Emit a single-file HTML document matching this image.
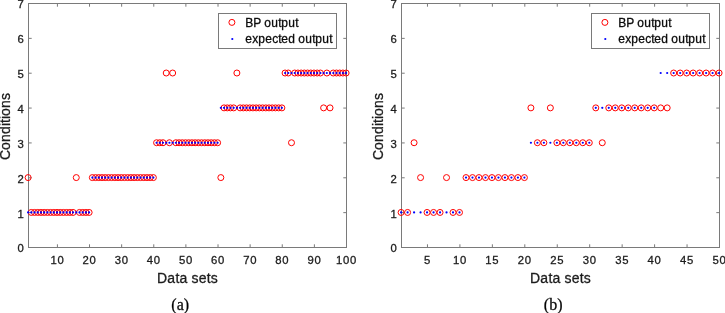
<!DOCTYPE html>
<html><head><meta charset="utf-8"><title>BP output vs expected output</title>
<style>
html,body{margin:0;padding:0;background:#fff;}
body{width:725px;height:313px;overflow:hidden;}
svg{display:block;}
svg text{stroke:#1c1c1c;stroke-width:0.3px;}
</style></head>
<body>
<svg width="725" height="313" viewBox="0 0 725 313" font-family="Liberation Sans, Arial, sans-serif" fill="#1c1c1c">
<rect width="725" height="313" fill="#fff"/>
<path d="M57.41 247.5V244.30M57.41 3.5V6.70M89.53 247.5V244.30M89.53 3.5V6.70M121.65 247.5V244.30M121.65 3.5V6.70M153.77 247.5V244.30M153.77 3.5V6.70M185.89 247.5V244.30M185.89 3.5V6.70M218.02 247.5V244.30M218.02 3.5V6.70M250.14 247.5V244.30M250.14 3.5V6.70M282.26 247.5V244.30M282.26 3.5V6.70M314.38 247.5V244.30M314.38 3.5V6.70M346.50 247.5V244.30M346.50 3.5V6.70M28.5 212.64H31.70M346.5 212.64H343.30M28.5 177.79H31.70M346.5 177.79H343.30M28.5 142.93H31.70M346.5 142.93H343.30M28.5 108.07H31.70M346.5 108.07H343.30M28.5 73.21H31.70M346.5 73.21H343.30M28.5 38.36H31.70M346.5 38.36H343.30" stroke="#7a7a7a" stroke-width="1.0" fill="none"/>
<rect x="28.5" y="3.5" width="318.0" height="244.0" fill="none" stroke="#7a7a7a" stroke-width="1.0"/>
<g fill="none" stroke="#ff0000" stroke-width="1.0"><circle cx="28.10" cy="177.59" r="3.0"/><circle cx="31.31" cy="212.44" r="3.0"/><circle cx="34.52" cy="212.44" r="3.0"/><circle cx="37.74" cy="212.44" r="3.0"/><circle cx="40.95" cy="212.44" r="3.0"/><circle cx="44.16" cy="212.44" r="3.0"/><circle cx="47.37" cy="212.44" r="3.0"/><circle cx="50.58" cy="212.44" r="3.0"/><circle cx="53.80" cy="212.44" r="3.0"/><circle cx="57.01" cy="212.44" r="3.0"/><circle cx="60.22" cy="212.44" r="3.0"/><circle cx="63.43" cy="212.44" r="3.0"/><circle cx="66.65" cy="212.44" r="3.0"/><circle cx="69.86" cy="212.44" r="3.0"/><circle cx="73.07" cy="212.44" r="3.0"/><circle cx="76.28" cy="177.59" r="3.0"/><circle cx="79.49" cy="212.44" r="3.0"/><circle cx="82.71" cy="212.44" r="3.0"/><circle cx="85.92" cy="212.44" r="3.0"/><circle cx="89.13" cy="212.44" r="3.0"/><circle cx="92.34" cy="177.59" r="3.0"/><circle cx="95.55" cy="177.59" r="3.0"/><circle cx="98.77" cy="177.59" r="3.0"/><circle cx="101.98" cy="177.59" r="3.0"/><circle cx="105.19" cy="177.59" r="3.0"/><circle cx="108.40" cy="177.59" r="3.0"/><circle cx="111.62" cy="177.59" r="3.0"/><circle cx="114.83" cy="177.59" r="3.0"/><circle cx="118.04" cy="177.59" r="3.0"/><circle cx="121.25" cy="177.59" r="3.0"/><circle cx="124.46" cy="177.59" r="3.0"/><circle cx="127.68" cy="177.59" r="3.0"/><circle cx="130.89" cy="177.59" r="3.0"/><circle cx="134.10" cy="177.59" r="3.0"/><circle cx="137.31" cy="177.59" r="3.0"/><circle cx="140.52" cy="177.59" r="3.0"/><circle cx="143.74" cy="177.59" r="3.0"/><circle cx="146.95" cy="177.59" r="3.0"/><circle cx="150.16" cy="177.59" r="3.0"/><circle cx="153.37" cy="177.59" r="3.0"/><circle cx="156.58" cy="142.73" r="3.0"/><circle cx="159.80" cy="142.73" r="3.0"/><circle cx="163.01" cy="142.73" r="3.0"/><circle cx="166.22" cy="73.01" r="3.0"/><circle cx="169.43" cy="142.73" r="3.0"/><circle cx="172.65" cy="73.01" r="3.0"/><circle cx="175.86" cy="142.73" r="3.0"/><circle cx="179.07" cy="142.73" r="3.0"/><circle cx="182.28" cy="142.73" r="3.0"/><circle cx="185.49" cy="142.73" r="3.0"/><circle cx="188.71" cy="142.73" r="3.0"/><circle cx="191.92" cy="142.73" r="3.0"/><circle cx="195.13" cy="142.73" r="3.0"/><circle cx="198.34" cy="142.73" r="3.0"/><circle cx="201.55" cy="142.73" r="3.0"/><circle cx="204.77" cy="142.73" r="3.0"/><circle cx="207.98" cy="142.73" r="3.0"/><circle cx="211.19" cy="142.73" r="3.0"/><circle cx="214.40" cy="142.73" r="3.0"/><circle cx="217.62" cy="142.73" r="3.0"/><circle cx="220.83" cy="177.59" r="3.0"/><circle cx="224.04" cy="107.87" r="3.0"/><circle cx="227.25" cy="107.87" r="3.0"/><circle cx="230.46" cy="107.87" r="3.0"/><circle cx="233.68" cy="107.87" r="3.0"/><circle cx="236.89" cy="73.01" r="3.0"/><circle cx="240.10" cy="107.87" r="3.0"/><circle cx="243.31" cy="107.87" r="3.0"/><circle cx="246.52" cy="107.87" r="3.0"/><circle cx="249.74" cy="107.87" r="3.0"/><circle cx="252.95" cy="107.87" r="3.0"/><circle cx="256.16" cy="107.87" r="3.0"/><circle cx="259.37" cy="107.87" r="3.0"/><circle cx="262.58" cy="107.87" r="3.0"/><circle cx="265.80" cy="107.87" r="3.0"/><circle cx="269.01" cy="107.87" r="3.0"/><circle cx="272.22" cy="107.87" r="3.0"/><circle cx="275.43" cy="107.87" r="3.0"/><circle cx="278.65" cy="107.87" r="3.0"/><circle cx="281.86" cy="107.87" r="3.0"/><circle cx="285.07" cy="73.01" r="3.0"/><circle cx="288.28" cy="73.01" r="3.0"/><circle cx="291.49" cy="142.73" r="3.0"/><circle cx="294.71" cy="73.01" r="3.0"/><circle cx="297.92" cy="73.01" r="3.0"/><circle cx="301.13" cy="73.01" r="3.0"/><circle cx="304.34" cy="73.01" r="3.0"/><circle cx="307.55" cy="73.01" r="3.0"/><circle cx="310.77" cy="73.01" r="3.0"/><circle cx="313.98" cy="73.01" r="3.0"/><circle cx="317.19" cy="73.01" r="3.0"/><circle cx="320.40" cy="73.01" r="3.0"/><circle cx="323.62" cy="107.87" r="3.0"/><circle cx="326.83" cy="73.01" r="3.0"/><circle cx="330.04" cy="107.87" r="3.0"/><circle cx="333.25" cy="73.01" r="3.0"/><circle cx="336.46" cy="73.01" r="3.0"/><circle cx="339.68" cy="73.01" r="3.0"/><circle cx="342.89" cy="73.01" r="3.0"/><circle cx="346.10" cy="73.01" r="3.0"/></g>
<g fill="#0000ff"><circle cx="28.10" cy="212.44" r="1.1"/><circle cx="31.31" cy="212.44" r="1.1"/><circle cx="34.52" cy="212.44" r="1.1"/><circle cx="37.74" cy="212.44" r="1.1"/><circle cx="40.95" cy="212.44" r="1.1"/><circle cx="44.16" cy="212.44" r="1.1"/><circle cx="47.37" cy="212.44" r="1.1"/><circle cx="50.58" cy="212.44" r="1.1"/><circle cx="53.80" cy="212.44" r="1.1"/><circle cx="57.01" cy="212.44" r="1.1"/><circle cx="60.22" cy="212.44" r="1.1"/><circle cx="63.43" cy="212.44" r="1.1"/><circle cx="66.65" cy="212.44" r="1.1"/><circle cx="69.86" cy="212.44" r="1.1"/><circle cx="73.07" cy="212.44" r="1.1"/><circle cx="76.28" cy="212.44" r="1.1"/><circle cx="79.49" cy="212.44" r="1.1"/><circle cx="82.71" cy="212.44" r="1.1"/><circle cx="85.92" cy="212.44" r="1.1"/><circle cx="89.13" cy="212.44" r="1.1"/><circle cx="92.34" cy="177.59" r="1.1"/><circle cx="95.55" cy="177.59" r="1.1"/><circle cx="98.77" cy="177.59" r="1.1"/><circle cx="101.98" cy="177.59" r="1.1"/><circle cx="105.19" cy="177.59" r="1.1"/><circle cx="108.40" cy="177.59" r="1.1"/><circle cx="111.62" cy="177.59" r="1.1"/><circle cx="114.83" cy="177.59" r="1.1"/><circle cx="118.04" cy="177.59" r="1.1"/><circle cx="121.25" cy="177.59" r="1.1"/><circle cx="124.46" cy="177.59" r="1.1"/><circle cx="127.68" cy="177.59" r="1.1"/><circle cx="130.89" cy="177.59" r="1.1"/><circle cx="134.10" cy="177.59" r="1.1"/><circle cx="137.31" cy="177.59" r="1.1"/><circle cx="140.52" cy="177.59" r="1.1"/><circle cx="143.74" cy="177.59" r="1.1"/><circle cx="146.95" cy="177.59" r="1.1"/><circle cx="150.16" cy="177.59" r="1.1"/><circle cx="153.37" cy="177.59" r="1.1"/><circle cx="156.58" cy="142.73" r="1.1"/><circle cx="159.80" cy="142.73" r="1.1"/><circle cx="163.01" cy="142.73" r="1.1"/><circle cx="166.22" cy="142.73" r="1.1"/><circle cx="169.43" cy="142.73" r="1.1"/><circle cx="172.65" cy="142.73" r="1.1"/><circle cx="175.86" cy="142.73" r="1.1"/><circle cx="179.07" cy="142.73" r="1.1"/><circle cx="182.28" cy="142.73" r="1.1"/><circle cx="185.49" cy="142.73" r="1.1"/><circle cx="188.71" cy="142.73" r="1.1"/><circle cx="191.92" cy="142.73" r="1.1"/><circle cx="195.13" cy="142.73" r="1.1"/><circle cx="198.34" cy="142.73" r="1.1"/><circle cx="201.55" cy="142.73" r="1.1"/><circle cx="204.77" cy="142.73" r="1.1"/><circle cx="207.98" cy="142.73" r="1.1"/><circle cx="211.19" cy="142.73" r="1.1"/><circle cx="214.40" cy="142.73" r="1.1"/><circle cx="217.62" cy="142.73" r="1.1"/><circle cx="220.83" cy="107.87" r="1.1"/><circle cx="224.04" cy="107.87" r="1.1"/><circle cx="227.25" cy="107.87" r="1.1"/><circle cx="230.46" cy="107.87" r="1.1"/><circle cx="233.68" cy="107.87" r="1.1"/><circle cx="236.89" cy="107.87" r="1.1"/><circle cx="240.10" cy="107.87" r="1.1"/><circle cx="243.31" cy="107.87" r="1.1"/><circle cx="246.52" cy="107.87" r="1.1"/><circle cx="249.74" cy="107.87" r="1.1"/><circle cx="252.95" cy="107.87" r="1.1"/><circle cx="256.16" cy="107.87" r="1.1"/><circle cx="259.37" cy="107.87" r="1.1"/><circle cx="262.58" cy="107.87" r="1.1"/><circle cx="265.80" cy="107.87" r="1.1"/><circle cx="269.01" cy="107.87" r="1.1"/><circle cx="272.22" cy="107.87" r="1.1"/><circle cx="275.43" cy="107.87" r="1.1"/><circle cx="278.65" cy="107.87" r="1.1"/><circle cx="281.86" cy="107.87" r="1.1"/><circle cx="285.07" cy="73.01" r="1.1"/><circle cx="288.28" cy="73.01" r="1.1"/><circle cx="291.49" cy="73.01" r="1.1"/><circle cx="294.71" cy="73.01" r="1.1"/><circle cx="297.92" cy="73.01" r="1.1"/><circle cx="301.13" cy="73.01" r="1.1"/><circle cx="304.34" cy="73.01" r="1.1"/><circle cx="307.55" cy="73.01" r="1.1"/><circle cx="310.77" cy="73.01" r="1.1"/><circle cx="313.98" cy="73.01" r="1.1"/><circle cx="317.19" cy="73.01" r="1.1"/><circle cx="320.40" cy="73.01" r="1.1"/><circle cx="323.62" cy="73.01" r="1.1"/><circle cx="326.83" cy="73.01" r="1.1"/><circle cx="330.04" cy="73.01" r="1.1"/><circle cx="333.25" cy="73.01" r="1.1"/><circle cx="336.46" cy="73.01" r="1.1"/><circle cx="339.68" cy="73.01" r="1.1"/><circle cx="342.89" cy="73.01" r="1.1"/><circle cx="346.10" cy="73.01" r="1.1"/></g>
<g class="t"><text x="50.41 57.41" y="264.00" font-size="11.3">10</text><text x="82.53 89.53" y="264.00" font-size="11.3">20</text><text x="114.65 121.65" y="264.00" font-size="11.3">30</text><text x="146.77 153.77" y="264.00" font-size="11.3">40</text><text x="178.89 185.89" y="264.00" font-size="11.3">50</text><text x="211.02 218.02" y="264.00" font-size="11.3">60</text><text x="243.14 250.14" y="264.00" font-size="11.3">70</text><text x="275.26 282.26" y="264.00" font-size="11.3">80</text><text x="307.38 314.38" y="264.00" font-size="11.3">90</text><text x="336 343 350" y="264.00" font-size="11.3">100</text><text x="17.5" y="252.40" font-size="11.3">0</text><text x="17.5" y="217.54" font-size="11.3">1</text><text x="17.5" y="182.69" font-size="11.3">2</text><text x="17.5" y="147.83" font-size="11.3">3</text><text x="17.5" y="112.97" font-size="11.3">4</text><text x="17.5" y="78.11" font-size="11.3">5</text><text x="17.5" y="43.26" font-size="11.3">6</text><text x="17.5" y="8.40" font-size="11.3">7</text></g>
<text x="156.88 167.35 175.41 179.44 187.5 191.53 198.78 206.85 210.87" y="282.60" font-size="14">Data sets</text>
<g transform="translate(10.3 126.50) rotate(-90)"><text x="-33.5 -23.5 -15.5 -7.5 0.5 3.5 7.5 10.5 18.5 26.5" y="0.00" font-size="14">Conditions</text></g>
<rect x="218.5" y="13.5" width="118" height="35" fill="#fff" stroke="#7a7a7a" stroke-width="1.0"/>
<circle cx="231.90" cy="22.4" r="3.0" fill="none" stroke="#ff0000" stroke-width="1.0"/>
<circle cx="232.30" cy="39" r="1.1" fill="#0000ff"/>
<text x="245.3 253.3 261.3 264.3 271.3 278.3 281.3 288.3 295.3" y="27.30" font-size="12" fill="#000" stroke="#000">BP output</text>
<text x="245.3 252.3 258.3 265.3 272.3 278.3 281.3 288.3 295.3 298.3 305.3 312.3 315.3 322.3 329.3" y="43.30" font-size="12" fill="#000" stroke="#000">expected output</text>
<text x="180.2" y="310.3" font-family="Liberation Serif, serif" font-size="16" fill="#000" stroke="#000" text-anchor="middle">(a)</text>
<path d="M427.46 247.5V244.30M427.46 3.5V6.70M459.91 247.5V244.30M459.91 3.5V6.70M492.36 247.5V244.30M492.36 3.5V6.70M524.81 247.5V244.30M524.81 3.5V6.70M557.26 247.5V244.30M557.26 3.5V6.70M589.70 247.5V244.30M589.70 3.5V6.70M622.15 247.5V244.30M622.15 3.5V6.70M654.60 247.5V244.30M654.60 3.5V6.70M687.05 247.5V244.30M687.05 3.5V6.70M719.50 247.5V244.30M719.50 3.5V6.70M401.5 212.64H404.70M719.5 212.64H716.30M401.5 177.79H404.70M719.5 177.79H716.30M401.5 142.93H404.70M719.5 142.93H716.30M401.5 108.07H404.70M719.5 108.07H716.30M401.5 73.21H404.70M719.5 73.21H716.30M401.5 38.36H404.70M719.5 38.36H716.30" stroke="#7a7a7a" stroke-width="1.0" fill="none"/>
<rect x="401.5" y="3.5" width="318.0" height="244.0" fill="none" stroke="#7a7a7a" stroke-width="1.0"/>
<g fill="none" stroke="#ff0000" stroke-width="1.0"><circle cx="401.10" cy="212.44" r="3.0"/><circle cx="407.59" cy="212.44" r="3.0"/><circle cx="414.08" cy="142.73" r="3.0"/><circle cx="420.57" cy="177.59" r="3.0"/><circle cx="427.06" cy="212.44" r="3.0"/><circle cx="433.55" cy="212.44" r="3.0"/><circle cx="440.04" cy="212.44" r="3.0"/><circle cx="446.53" cy="177.59" r="3.0"/><circle cx="453.02" cy="212.44" r="3.0"/><circle cx="459.51" cy="212.44" r="3.0"/><circle cx="466.00" cy="177.59" r="3.0"/><circle cx="472.49" cy="177.59" r="3.0"/><circle cx="478.98" cy="177.59" r="3.0"/><circle cx="485.47" cy="177.59" r="3.0"/><circle cx="491.96" cy="177.59" r="3.0"/><circle cx="498.45" cy="177.59" r="3.0"/><circle cx="504.94" cy="177.59" r="3.0"/><circle cx="511.43" cy="177.59" r="3.0"/><circle cx="517.92" cy="177.59" r="3.0"/><circle cx="524.41" cy="177.59" r="3.0"/><circle cx="530.90" cy="107.87" r="3.0"/><circle cx="537.39" cy="142.73" r="3.0"/><circle cx="543.88" cy="142.73" r="3.0"/><circle cx="550.37" cy="107.87" r="3.0"/><circle cx="556.86" cy="142.73" r="3.0"/><circle cx="563.34" cy="142.73" r="3.0"/><circle cx="569.83" cy="142.73" r="3.0"/><circle cx="576.32" cy="142.73" r="3.0"/><circle cx="582.81" cy="142.73" r="3.0"/><circle cx="589.30" cy="142.73" r="3.0"/><circle cx="595.79" cy="107.87" r="3.0"/><circle cx="602.28" cy="142.73" r="3.0"/><circle cx="608.77" cy="107.87" r="3.0"/><circle cx="615.26" cy="107.87" r="3.0"/><circle cx="621.75" cy="107.87" r="3.0"/><circle cx="628.24" cy="107.87" r="3.0"/><circle cx="634.73" cy="107.87" r="3.0"/><circle cx="641.22" cy="107.87" r="3.0"/><circle cx="647.71" cy="107.87" r="3.0"/><circle cx="654.20" cy="107.87" r="3.0"/><circle cx="660.69" cy="107.87" r="3.0"/><circle cx="667.18" cy="107.87" r="3.0"/><circle cx="673.67" cy="73.01" r="3.0"/><circle cx="680.16" cy="73.01" r="3.0"/><circle cx="686.65" cy="73.01" r="3.0"/><circle cx="693.14" cy="73.01" r="3.0"/><circle cx="699.63" cy="73.01" r="3.0"/><circle cx="706.12" cy="73.01" r="3.0"/><circle cx="712.61" cy="73.01" r="3.0"/><circle cx="719.10" cy="73.01" r="3.0"/></g>
<g fill="#0000ff"><circle cx="401.10" cy="212.44" r="1.1"/><circle cx="407.59" cy="212.44" r="1.1"/><circle cx="414.08" cy="212.44" r="1.1"/><circle cx="420.57" cy="212.44" r="1.1"/><circle cx="427.06" cy="212.44" r="1.1"/><circle cx="433.55" cy="212.44" r="1.1"/><circle cx="440.04" cy="212.44" r="1.1"/><circle cx="446.53" cy="212.44" r="1.1"/><circle cx="453.02" cy="212.44" r="1.1"/><circle cx="459.51" cy="212.44" r="1.1"/><circle cx="466.00" cy="177.59" r="1.1"/><circle cx="472.49" cy="177.59" r="1.1"/><circle cx="478.98" cy="177.59" r="1.1"/><circle cx="485.47" cy="177.59" r="1.1"/><circle cx="491.96" cy="177.59" r="1.1"/><circle cx="498.45" cy="177.59" r="1.1"/><circle cx="504.94" cy="177.59" r="1.1"/><circle cx="511.43" cy="177.59" r="1.1"/><circle cx="517.92" cy="177.59" r="1.1"/><circle cx="524.41" cy="177.59" r="1.1"/><circle cx="530.90" cy="142.73" r="1.1"/><circle cx="537.39" cy="142.73" r="1.1"/><circle cx="543.88" cy="142.73" r="1.1"/><circle cx="550.37" cy="142.73" r="1.1"/><circle cx="556.86" cy="142.73" r="1.1"/><circle cx="563.34" cy="142.73" r="1.1"/><circle cx="569.83" cy="142.73" r="1.1"/><circle cx="576.32" cy="142.73" r="1.1"/><circle cx="582.81" cy="142.73" r="1.1"/><circle cx="589.30" cy="142.73" r="1.1"/><circle cx="595.79" cy="107.87" r="1.1"/><circle cx="602.28" cy="107.87" r="1.1"/><circle cx="608.77" cy="107.87" r="1.1"/><circle cx="615.26" cy="107.87" r="1.1"/><circle cx="621.75" cy="107.87" r="1.1"/><circle cx="628.24" cy="107.87" r="1.1"/><circle cx="634.73" cy="107.87" r="1.1"/><circle cx="641.22" cy="107.87" r="1.1"/><circle cx="647.71" cy="107.87" r="1.1"/><circle cx="654.20" cy="107.87" r="1.1"/><circle cx="660.69" cy="73.01" r="1.1"/><circle cx="667.18" cy="73.01" r="1.1"/><circle cx="673.67" cy="73.01" r="1.1"/><circle cx="680.16" cy="73.01" r="1.1"/><circle cx="686.65" cy="73.01" r="1.1"/><circle cx="693.14" cy="73.01" r="1.1"/><circle cx="699.63" cy="73.01" r="1.1"/><circle cx="706.12" cy="73.01" r="1.1"/><circle cx="712.61" cy="73.01" r="1.1"/><circle cx="719.10" cy="73.01" r="1.1"/></g>
<g class="t"><text x="423.96" y="264.00" font-size="11.3">5</text><text x="452.91 459.91" y="264.00" font-size="11.3">10</text><text x="485.36 492.36" y="264.00" font-size="11.3">15</text><text x="517.81 524.81" y="264.00" font-size="11.3">20</text><text x="550.26 557.26" y="264.00" font-size="11.3">25</text><text x="582.7 589.7" y="264.00" font-size="11.3">30</text><text x="615.15 622.15" y="264.00" font-size="11.3">35</text><text x="647.6 654.6" y="264.00" font-size="11.3">40</text><text x="680.05 687.05" y="264.00" font-size="11.3">45</text><text x="712.5 719.5" y="264.00" font-size="11.3">50</text><text x="390.5" y="252.40" font-size="11.3">0</text><text x="390.5" y="217.54" font-size="11.3">1</text><text x="390.5" y="182.69" font-size="11.3">2</text><text x="390.5" y="147.83" font-size="11.3">3</text><text x="390.5" y="112.97" font-size="11.3">4</text><text x="390.5" y="78.11" font-size="11.3">5</text><text x="390.5" y="43.26" font-size="11.3">6</text><text x="390.5" y="8.40" font-size="11.3">7</text></g>
<text x="529.88 540.35 548.41 552.44 560.5 564.53 571.78 579.85 583.87" y="282.60" font-size="14">Data sets</text>
<g transform="translate(383.3 126.50) rotate(-90)"><text x="-33.5 -23.5 -15.5 -7.5 0.5 3.5 7.5 10.5 18.5 26.5" y="0.00" font-size="14">Conditions</text></g>
<rect x="591.5" y="13.5" width="118" height="35" fill="#fff" stroke="#7a7a7a" stroke-width="1.0"/>
<circle cx="604.90" cy="22.4" r="3.0" fill="none" stroke="#ff0000" stroke-width="1.0"/>
<circle cx="605.30" cy="39" r="1.1" fill="#0000ff"/>
<text x="618.3 626.3 634.3 637.3 644.3 651.3 654.3 661.3 668.3" y="27.30" font-size="12" fill="#000" stroke="#000">BP output</text>
<text x="618.3 625.3 631.3 638.3 645.3 651.3 654.3 661.3 668.3 671.3 678.3 685.3 688.3 695.3 702.3" y="43.30" font-size="12" fill="#000" stroke="#000">expected output</text>
<text x="553.2" y="310.3" font-family="Liberation Serif, serif" font-size="16" fill="#000" stroke="#000" text-anchor="middle">(b)</text>
</svg>
</body></html>
